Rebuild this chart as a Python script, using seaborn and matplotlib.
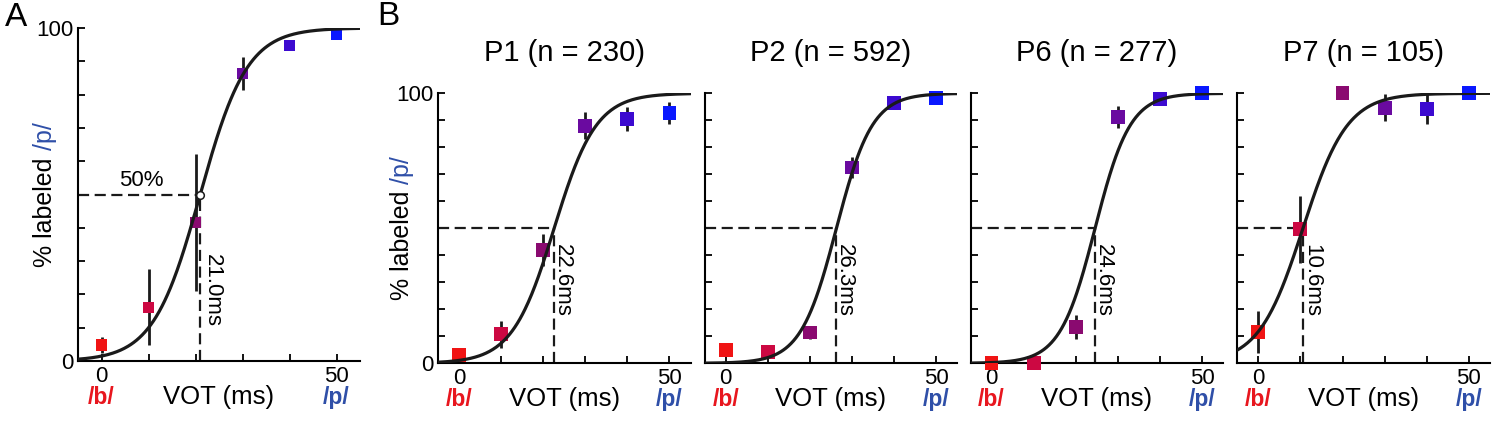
import numpy as np
import seaborn as sns
import matplotlib.pyplot as plt
import pandas as pd

# VOT continuum steps (ms)
vot = [0, 10, 20, 30, 40, 50]
step_colors = ["#f01414", "#cc0842", "#8a0a70", "#6a0aa0", "#3c0ad0", "#0a18ff"]

# panel A (all participants)
a_pct = [4.8, 16.1, 41.6, 86.3, 94.7, 98.0]
a_err = [2.3, 11.4, 20.6, 4.9, 0.0, 0.0]
a_boundary = 21.0
a_slope = 0.20

# panel B (single participants)
b_titles = ["P1 (n = 230)", "P2 (n = 592)", "P6 (n = 277)", "P7 (n = 105)"]
b_pct = [
    [3.1, 10.7, 42.0, 87.9, 90.4, 92.6],
    [4.9, 4.2, 11.4, 72.5, 96.3, 98.4],
    [0.0, 0.0, 13.5, 91.3, 98.0, 100.0],
    [11.7, 49.6, 100.0, 94.7, 94.1, 100.0],
]
b_err = [
    [0.0, 5.0, 6.0, 5.0, 4.5, 4.0],
    [0.0, 0.0, 2.5, 4.0, 0.0, 0.0],
    [0.0, 0.0, 4.5, 4.0, 0.0, 0.0],
    [7.7, 12.5, 0.0, 5.0, 5.5, 0.0],
]
b_boundary = [22.6, 26.3, 24.6, 10.6]
b_slope = [0.20, 0.235, 0.24, 0.19]

crit = 50
xlim = (-5, 55)

red = "#e8161e"
blue = "#2f4fa8"

sns.set_theme(style="ticks", rc={"axes.edgecolor": "black", "xtick.color": "black",
                                 "ytick.color": "black", "axes.linewidth": 1.5,
                                 "text.color": "black", "axes.labelcolor": "black"})
plt.rcParams['font.family'] = ['Liberation Sans', 'DejaVu Sans']

fig = plt.figure(figsize=(15, 4.26), dpi=100)
palette = dict(zip(vot, step_colors))
dash = (0, (5, 2.5))


def draw_panel(ax, pct, err, boundary, slope, msize, ylabels):
    xs = np.linspace(xlim[0], xlim[1], 300)
    fit = 100 / (1 + np.exp(-slope * (xs - boundary)))
    ax.plot([xlim[0], boundary], [crit, crit], ls=dash, color='k', lw=1.6, zorder=1)
    ax.plot([boundary, boundary], [0, crit], ls=dash, color='k', lw=1.6, zorder=1)
    ax.errorbar(vot, pct, yerr=err, fmt='none', ecolor='k', elinewidth=2.0, capsize=0,
                zorder=2, clip_on=False)
    sns.scatterplot(x=vot, y=pct, hue=vot, palette=palette, marker='s', s=msize, linewidth=0,
                    legend=False, ax=ax, zorder=3, clip_on=False)
    sns.lineplot(x=xs, y=fit, color='k', lw=2.3, ax=ax, zorder=4)

    ax.set_xlim(*xlim)
    ax.set_ylim(0, 100)
    ax.set_xticks(vot)
    ax.set_xticklabels([str(v) if v in (0, 50) else "" for v in vot])
    yt = list(range(0, 101, 10))
    ax.set_yticks(yt)
    ax.set_yticklabels([str(v) if (ylabels and v in (0, 100)) else "" for v in yt])
    ax.tick_params(direction='in', length=5, width=1.3, labelsize=16)
    ax.tick_params(axis='x', pad=3.5)
    ax.tick_params(axis='y', pad=3)
    sns.despine(ax=ax)
    ax.set_xlabel("")
    ax.set_ylabel("")

    ax.annotate("VOT (ms)", xy=(0.5, 0), xycoords='axes fraction', xytext=(0, -31),
                textcoords='offset points', ha='center', va='baseline', fontsize=18.5)
    ax.annotate("/b/", xy=(vot[0], 0), xycoords=('data', 'axes fraction'), xytext=(0, -31),
                textcoords='offset points', ha='center', va='baseline', fontsize=16.5,
                fontweight='bold', color=red)
    ax.annotate("/p/", xy=(vot[-1], 0), xycoords=('data', 'axes fraction'), xytext=(0, -31),
                textcoords='offset points', ha='center', va='baseline', fontsize=16.5,
                fontweight='bold', color=blue)


def two_tone_ylabel(ax, xfrac):
    renderer = fig.canvas.get_renderer()
    full = ax.text(xfrac, 0.5, "% labeled /p/", rotation=90, ha='center', va='center',
                   transform=ax.transAxes, fontsize=18)
    bb = full.get_window_extent(renderer)
    full.remove()
    inv = ax.transAxes.inverted()
    _, y0 = inv.transform((bb.x0, bb.y0))
    _, y1 = inv.transform((bb.x1, bb.y1))
    ax.text(xfrac, y0, "% labeled ", rotation=90, ha='center', va='bottom',
            transform=ax.transAxes, fontsize=18)
    ax.text(xfrac, y1, "/p/", rotation=90, ha='center', va='top',
            transform=ax.transAxes, fontsize=18, color=blue)


# panel A
axA = fig.add_axes([78 / 1500, 65 / 426, 282 / 1500, 333 / 426])
draw_panel(axA, a_pct, a_err, a_boundary, a_slope, 64, True)
axA.plot([a_boundary], [crit], marker='o', ms=5.5, mfc='white', mec='k', mew=1.1, zorder=5)
axA.text(8.5, crit + 1.2, "50%", ha='center', va='bottom', fontsize=16)
axA.annotate(f"{a_boundary:.1f}ms", xy=(a_boundary, 32), xytext=(1.5, 0),
             textcoords='offset points', rotation=270, ha='left', va='top', fontsize=16)
two_tone_ylabel(axA, -0.117)

# panel B
b_left = [438, 704.7, 970.5, 1237.3]
for i, left in enumerate(b_left):
    ax = fig.add_axes([left / 1500, 62.7 / 426, 252.5 / 1500, 270 / 426])
    draw_panel(ax, b_pct[i], b_err[i], b_boundary[i], b_slope[i], 100, i == 0)
    ax.set_title(b_titles[i], fontsize=21, pad=23)
    ax.annotate(f"{b_boundary[i]:.1f}ms", xy=(b_boundary[i], 44), xytext=(-1.5, 0),
                textcoords='offset points', rotation=270, ha='left', va='top', fontsize=16)
    if i == 0:
        two_tone_ylabel(ax, -0.143)

fig.text(5 / 1500, 1 - 2 / 426, "A", fontsize=24, ha='left', va='top')
fig.text(377 / 1500, 1 - 1 / 426, "B", fontsize=24, ha='left', va='top')

fig.savefig("out.png", dpi=100)
